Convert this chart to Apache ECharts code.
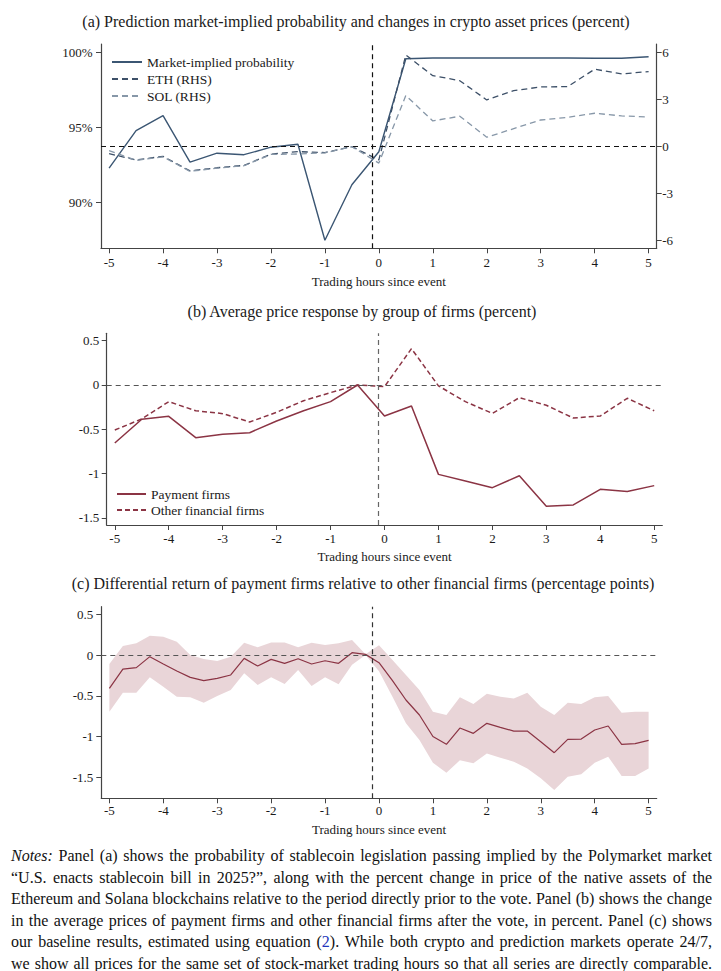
<!DOCTYPE html>
<html><head><meta charset="utf-8">
<script src="https://cdn.jsdelivr.net/npm/echarts@6/dist/echarts.min.js"></script>
<style>
html,body{margin:0;padding:0;background:#fff;}
#chart{width:721px;height:842px;}
#notes{position:absolute;left:11px;top:845px;width:701px;font-family:'Liberation Serif','Times New Roman',serif;font-size:16px;line-height:21.6px;color:#111;}
#notes div{text-align:justify;text-align-last:justify;white-space:nowrap;}
#notes a{color:#2233bb;text-decoration:none;}
</style></head><body>
<div id="chart"></div>
<div id="notes">
<div><i>Notes:</i> Panel (a) shows the probability of stablecoin legislation passing implied by the Polymarket market</div>
<div>“U.S. enacts stablecoin bill in 2025?”, along with the percent change in price of the native assets of the</div>
<div>Ethereum and Solana blockchains relative to the period directly prior to the vote. Panel (b) shows the change</div>
<div>in the average prices of payment firms and other financial firms after the vote, in percent. Panel (c) shows</div>
<div>our baseline results, estimated using equation (<a>2</a>). While both crypto and prediction markets operate 24/7,</div>
<div>we show all prices for the same set of stock-market trading hours so that all series are directly comparable.</div>
</div>
<script>
// ---- data ----
const hoursHalf = [-5,-4.5,-4,-3.5,-3,-2.5,-2,-1.5,-1,-0.5,0,0.5,1,1.5,2,2.5,3,3.5,4,4.5,5];
const hoursQuarter = [-5,-4.75,-4.5,-4.25,-4,-3.75,-3.5,-3.25,-3,-2.75,-2.5,-2.25,-2,-1.75,-1.5,-1.25,-1,-0.75,-0.5,-0.25,
  0,0.25,0.5,0.75,1,1.25,1.5,1.75,2,2.25,2.5,2.75,3,3.25,3.5,3.75,4,4.25,4.5,4.75,5];
const xTicks = [-5,-4,-3,-2,-1,0,1,2,3,4,5];
const probTicks = [90,95,100];
const rhsTicks = [-6,-3,0,3,6];
const pctTicks = [-1.5,-1,-0.5,0,0.5];
const eventTime = -0.12;

const marketProb = [92.3,94.8,95.8,92.7,93.3,93.2,93.7,93.9,87.5,91.2,93.4,99.6,99.65,99.65,99.65,99.65,99.65,99.65,99.63,99.63,99.73];
const ethChange = [-0.45,-0.85,-0.62,-1.55,-1.35,-1.2,-0.48,-0.32,-0.38,0.0,-0.85,5.85,4.53,4.21,2.98,3.57,3.81,3.83,4.94,4.64,4.79];
const solChange = [-0.25,-0.88,-0.65,-1.58,-1.37,-1.22,-0.5,-0.47,-0.4,0.0,-1.05,3.26,1.64,1.94,0.6,1.15,1.70,1.87,2.13,1.96,1.89];

const paymentFirms = [-0.654,-0.387,-0.353,-0.594,-0.556,-0.538,-0.406,-0.29,-0.188,0,-0.35,-0.237,-1.008,-1.083,-1.158,-1.023,-1.368,-1.353,-1.177,-1.2,-1.135];
const otherFirms = [-0.508,-0.383,-0.188,-0.29,-0.323,-0.417,-0.308,-0.177,-0.086,0,-0.019,0.41,-0.01,-0.188,-0.32,-0.143,-0.229,-0.372,-0.35,-0.15,-0.29];

const diffEst = [-0.409,-0.172,-0.155,-0.02,-0.11,-0.196,-0.274,-0.315,-0.286,-0.245,-0.041,-0.135,-0.053,-0.102,-0.045,-0.11,-0.07,-0.102,0.029,0.008,
  -0.094,-0.315,-0.552,-0.736,-1.0,-1.096,-0.896,-0.961,-0.838,-0.888,-0.933,-0.933,-1.064,-1.198,-1.035,-1.031,-0.92,-0.871,-1.096,-1.088,-1.047];
const ciUpper = [-0.11,0.11,0.143,0.237,0.225,0.164,0.0,-0.049,-0.074,-0.02,0.151,0.094,0.155,0.155,0.094,0.151,0.123,0.143,0.184,0.01,
  0.12,-0.061,-0.245,-0.429,-0.695,-0.736,-0.519,-0.601,-0.474,-0.511,-0.532,-0.462,-0.634,-0.736,-0.585,-0.601,-0.519,-0.503,-0.708,-0.695,-0.695];
const ciLower = [-0.695,-0.462,-0.462,-0.274,-0.389,-0.511,-0.519,-0.585,-0.503,-0.43,-0.225,-0.368,-0.274,-0.356,-0.184,-0.38,-0.274,-0.36,-0.12,0.0,
  -0.2,-0.511,-0.838,-1.043,-1.321,-1.444,-1.292,-1.329,-1.207,-1.26,-1.309,-1.391,-1.513,-1.656,-1.493,-1.464,-1.321,-1.247,-1.485,-1.485,-1.391];

// ---- styling ----
const FONT = "'Liberation Serif','Times New Roman',serif";
const TXT = '#1a1a1a';
const AXC = '#444';
const SLATE = '#3b5673', ETHC = '#3d5068', SOLC = '#8797a8';
const MAROON = '#8b3444', BAND = '#e9d5d8';

const pair = (xs, ys) => xs.map((x, i) => [x, ys[i]]);

function xAx(grid, nameGap, margin) {
  return {
    type: 'value', gridIndex: grid, min: -5.15, max: 5.15,
    name: 'Trading hours since event', nameLocation: 'middle', nameGap: nameGap,
    nameTextStyle: {fontFamily: FONT, fontSize: 13, color: TXT},
    axisLine: {onZero: false, lineStyle: {color: AXC, width: 1.2}},
    axisTick: {show: true, length: 5, customValues: xTicks, lineStyle: {color: AXC}},
    axisLabel: {customValues: xTicks, margin: margin, fontFamily: FONT, fontSize: 13, color: TXT},
    splitLine: {show: false}
  };
}
function yAx(grid, min, max, ticks, fmt, pos, margin) {
  return {
    type: 'value', gridIndex: grid, min: min, max: max, position: pos,
    axisLine: {show: true, onZero: false, lineStyle: {color: AXC, width: 1.2}},
    axisTick: {show: true, length: 5, customValues: ticks, lineStyle: {color: AXC}},
    axisLabel: {customValues: ticks, margin: margin, fontFamily: FONT, fontSize: 13, color: TXT, formatter: fmt},
    splitLine: {show: false}
  };
}
const refLines = (hColor, vColor) => ({
  silent: true, symbol: ['none', 'none'], label: {show: false},
  lineStyle: {type: [5, 4], width: 1.2, color: hColor},
  data: [{yAxis: 0}, {xAxis: eventTime, lineStyle: {type: [5, 4], width: 1.2, color: vColor}}]
});
const titleStyle = {fontFamily: FONT, fontSize: 16, fontWeight: 'normal', color: TXT};
const legendText = {fontFamily: FONT, fontSize: 13.5, color: TXT};

const chart = echarts.init(document.getElementById('chart'), null, {renderer: 'svg'});
chart.setOption({
  backgroundColor: '#fff',
  animation: false,
  title: [
    {text: '(a) Prediction market-implied probability and changes in crypto asset prices (percent)', left: 351, top: 8, textAlign: 'center', textStyle: titleStyle},
    {text: '(b) Average price response by group of firms (percent)', left: 357, top: 298, textAlign: 'center', textStyle: titleStyle},
    {text: '(c) Differential return of payment firms relative to other financial firms (percentage points)', left: 358, top: 570, textAlign: 'center', textStyle: titleStyle}
  ],
  legend: [
    {data: ['Market-implied probability', 'ETH (RHS)', 'SOL (RHS)'], orient: 'vertical', left: 111, top: 55, padding: 0,
     itemWidth: 30, itemHeight: 10, itemGap: 3, itemStyle: {opacity: 0}, textStyle: legendText},
    {data: ['Payment firms', 'Other financial firms'], orient: 'vertical', left: 116, top: 487, padding: 0,
     itemWidth: 29, itemHeight: 10, itemGap: 2, itemStyle: {opacity: 0}, textStyle: legendText}
  ],
  grid: [
    {left: 101, width: 555.7, top: 44, height: 204.3},
    {left: 106.7, width: 555.6, top: 333.3, height: 191.7},
    {left: 101.3, width: 555.4, top: 606.7, height: 191.6}
  ],
  xAxis: [xAx(0, 27, 7.5), xAx(1, 24.5, 7), xAx(2, 24.5, 6)],
  yAxis: [
    yAx(0, 86.96, 100.58, probTicks, v => v + '%', 'left', 8.5),
    yAx(0, -6.49, 6.55, rhsTicks, null, 'right', 5.5),
    yAx(1, -1.579, 0.583, pctTicks, null, 'left', 7.4),
    yAx(2, -1.758, 0.593, pctTicks, null, 'left', 8)
  ],
  series: [
    {name: 'Market-implied probability', type: 'line', xAxisIndex: 0, yAxisIndex: 0, symbol: 'none',
     data: pair(hoursHalf, marketProb), lineStyle: {color: SLATE, width: 1.4}, itemStyle: {color: SLATE}},
    {name: 'ETH (RHS)', type: 'line', xAxisIndex: 0, yAxisIndex: 1, symbol: 'none',
     data: pair(hoursHalf, ethChange), lineStyle: {color: ETHC, width: 1.3, type: [6, 4]}, itemStyle: {color: ETHC},
     markLine: refLines('#111', '#111')},
    {name: 'SOL (RHS)', type: 'line', xAxisIndex: 0, yAxisIndex: 1, symbol: 'none',
     data: pair(hoursHalf, solChange), lineStyle: {color: SOLC, width: 1.3, type: [6, 4]}, itemStyle: {color: SOLC}},
    {name: 'Payment firms', type: 'line', xAxisIndex: 1, yAxisIndex: 2, symbol: 'none',
     data: pair(hoursHalf, paymentFirms), lineStyle: {color: MAROON, width: 1.5}, itemStyle: {color: MAROON},
     markLine: refLines('#555', '#666')},
    {name: 'Other financial firms', type: 'line', xAxisIndex: 1, yAxisIndex: 2, symbol: 'none',
     data: pair(hoursHalf, otherFirms), lineStyle: {color: MAROON, width: 1.5, type: [5, 3]}, itemStyle: {color: MAROON}},
    {name: 'CI band', type: 'custom', xAxisIndex: 2, yAxisIndex: 3, silent: true,
     data: [[0, 0]],
     renderItem: function (params, api) {
       const pts = [];
       hoursQuarter.forEach((h, i) => pts.push(api.coord([h, ciUpper[i]])));
       for (let i = hoursQuarter.length - 1; i >= 0; i--) pts.push(api.coord([hoursQuarter[i], ciLower[i]]));
       return {type: 'polygon', shape: {points: pts}, style: {fill: BAND}};
     }},
    {name: 'Differential return', type: 'line', xAxisIndex: 2, yAxisIndex: 3, symbol: 'none',
     data: pair(hoursQuarter, diffEst), lineStyle: {color: MAROON, width: 1.2}, itemStyle: {color: MAROON},
     markLine: refLines('#555', '#333')}
  ]
});
</script>
</body></html>
